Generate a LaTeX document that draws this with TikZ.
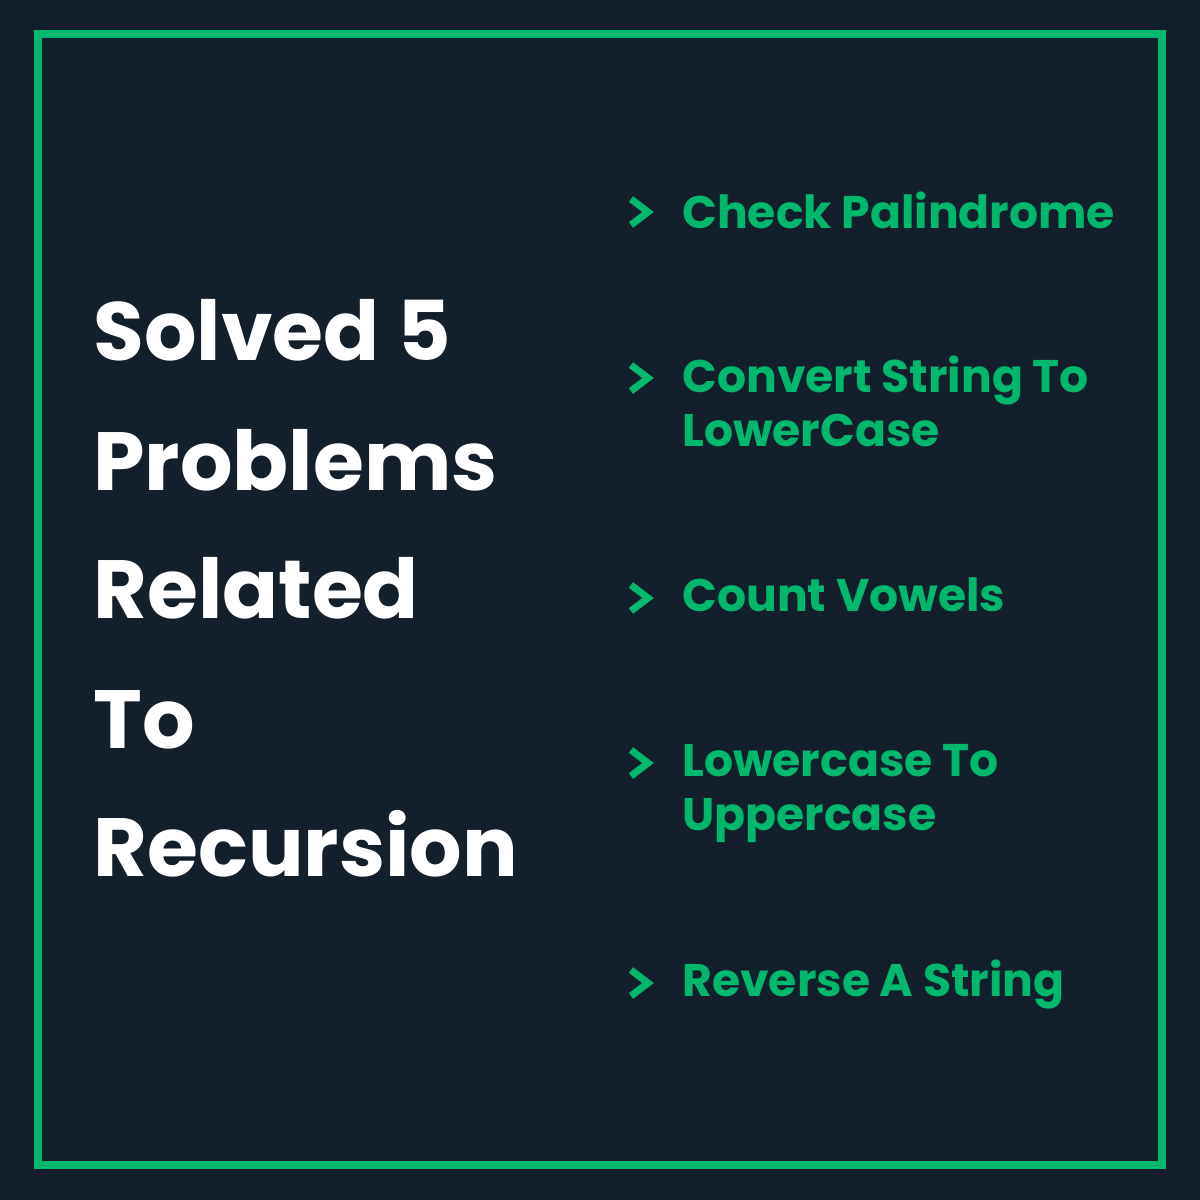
\documentclass[tikz,border=0pt]{standalone}
\usepackage{fontspec}
\setmainfont{Poppins}[UprightFont=* Bold, BoldFont=* Bold]
\definecolor{bg}{HTML}{131F2B}
\definecolor{grn}{HTML}{00B86B}
\begin{document}
\begin{tikzpicture}[x=0.02cm,y=-0.02cm,
  big/.style={anchor=base west,inner sep=0,text=white,font=\fontsize{47}{56}\selectfont},
  item/.style={anchor=base west,inner sep=0,text=grn,font=\fontsize{26}{31}\selectfont},
  chev/.style={draw=grn,line width=4pt,line cap=butt,line join=miter}]
\useasboundingbox (0,0) rectangle (1200,1200);
\fill[bg] (0,0) rectangle (1200,1200);
\draw[grn,line width=4.2pt] (38,34) rectangle (1162,1165);
\node[big] (l1) at (93,360) {Solved 5};
\node[big] (l2) at (93,490) {Problems};
\node[big] (l3) at (93,618) {Related};
\node[big] (l4) at (93,748) {To};
\node[big] (l5) at (93,876) {Recursion};
\foreach \y/\n in {212/c1,378/c2,598/c3,763/c4,983/c5}{
  \coordinate (\n) at (640,\y);
  \draw[chev] ([shift={(-9,-13)}]\n) -- ([shift={(8,0)}]\n) -- ([shift={(-9,13)}]\n);
}
\node[item] (t1) at (682,228) {Check Palindrome};
\node[item] (t2) at (682,392) {Convert String To};
\node[item] (t2b) at (682,446) {LowerCase};
\node[item] (t3) at (682,611) {Count Vowels};
\node[item] (t4) at (682,776) {Lowercase To};
\node[item] (t4b) at (682,830) {Uppercase};
\node[item] (t5) at (682,996) {Reverse A String};
\end{tikzpicture}
\end{document}
